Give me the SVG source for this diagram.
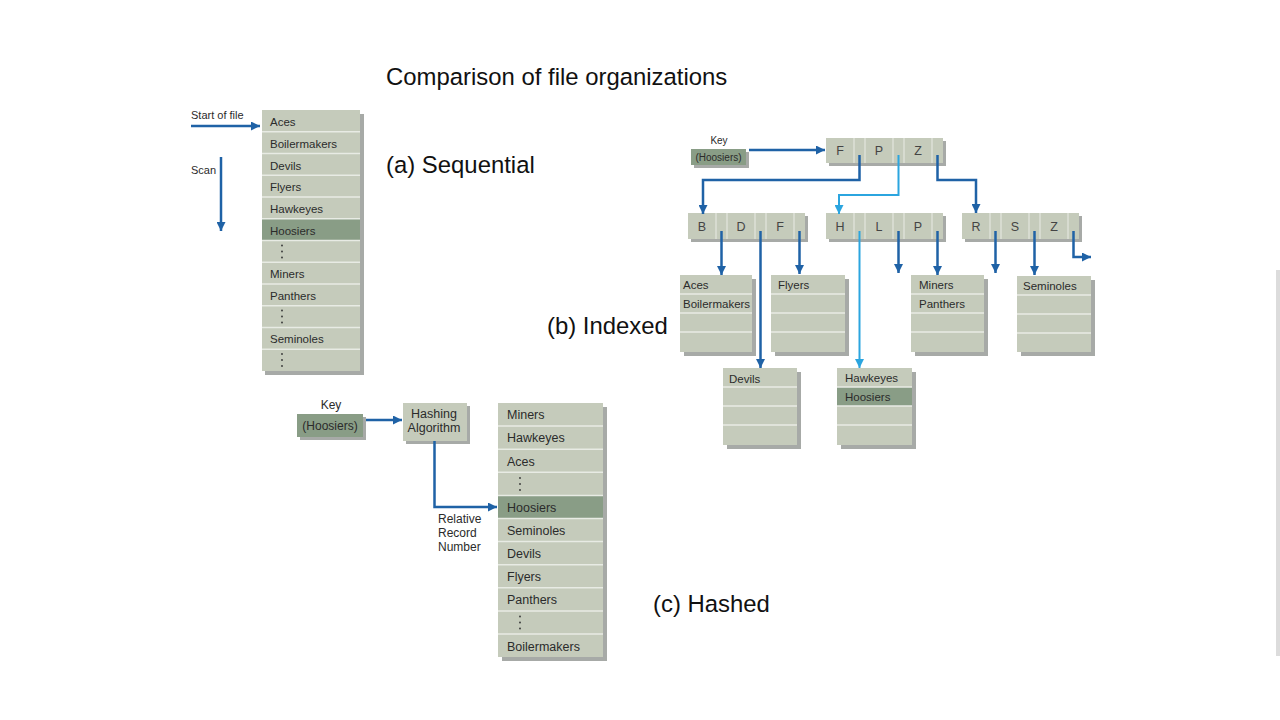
<svg xmlns="http://www.w3.org/2000/svg" width="1280" height="720" viewBox="0 0 1280 720">
<style>
text{font-family:"Liberation Sans",Arial,sans-serif;fill:#2b2b2b}
.title{font-size:23.9px;fill:#111}
.lbl{font-size:11px}
.cell{fill:#c5cbbb}
.hi{fill:#899d86}
.sh{fill:#a7aaa7}
.sep{stroke:#e8ebe4;stroke-width:1.5}
.vsep{stroke:#dde1d7;stroke-width:1.5}
.t11{font-size:11.5px}
.t12{font-size:12.5px}
.key{font-size:12px;text-anchor:middle}
.alg{font-size:12.5px;text-anchor:middle}
.rrn{font-size:12px}
.ltr{font-size:12.5px;text-anchor:middle;fill:#444}
.dk{fill:none;stroke:#1f62a6;stroke-width:2.5}
.lt{fill:none;stroke:#2ba5df;stroke-width:2}
.dot{fill:#333}
</style>
<defs>
<marker id="ad" viewBox="0 0 10 10" refX="10" refY="5" markerWidth="10" markerHeight="9" markerUnits="userSpaceOnUse" orient="auto"><path d="M0 0L10 5L0 10z" fill="#1f62a6"/></marker>
<marker id="al" viewBox="0 0 10 10" refX="10" refY="5" markerWidth="10" markerHeight="9" markerUnits="userSpaceOnUse" orient="auto"><path d="M0 0L10 5L0 10z" fill="#2ba5df"/></marker>
</defs>
<rect width="1280" height="720" fill="#ffffff"/>
<rect x="1276" y="270" width="4" height="386" fill="#dcdcdc"/>

<text class="title" x="386" y="85">Comparison of file organizations</text>
<text class="title" x="386" y="173">(a) Sequential</text>
<text class="title" x="547" y="334">(b) Indexed</text>
<text class="title" x="653" y="612">(c) Hashed</text>

<!-- (a) Sequential -->
<g id="seq-labels">
<text class="lbl" x="191" y="119">Start of file</text>
<text class="lbl" x="191" y="174">Scan</text>
</g>
<g id="seq-list">
<rect class="sh" x="265" y="114" width="99" height="261"/>
<rect class="cell" x="262" y="110" width="98" height="261"/>
<rect class="hi" x="262" y="218.75" width="98" height="21.75"/>
<g class="sep">
<line x1="262" y1="131.75" x2="360" y2="131.75"/><line x1="262" y1="153.5" x2="360" y2="153.5"/>
<line x1="262" y1="175.25" x2="360" y2="175.25"/><line x1="262" y1="197" x2="360" y2="197"/>
<line x1="262" y1="218.75" x2="360" y2="218.75"/><line x1="262" y1="240.5" x2="360" y2="240.5"/>
<line x1="262" y1="262.25" x2="360" y2="262.25"/><line x1="262" y1="284" x2="360" y2="284"/>
<line x1="262" y1="305.75" x2="360" y2="305.75"/><line x1="262" y1="327.5" x2="360" y2="327.5"/>
<line x1="262" y1="349.25" x2="360" y2="349.25"/>
</g>
<g class="t11">
<text x="270" y="126">Aces</text><text x="270" y="148">Boilermakers</text>
<text x="270" y="169.5">Devils</text><text x="270" y="191">Flyers</text>
<text x="270" y="213">Hawkeyes</text><text x="270" y="234.5">Hoosiers</text>
<text x="270" y="278">Miners</text><text x="270" y="300">Panthers</text>
<text x="270" y="343">Seminoles</text>
</g>
<g class="dot">
<circle cx="282" cy="245.5" r="0.9"/><circle cx="282" cy="251.5" r="0.9"/><circle cx="282" cy="257.5" r="0.9"/>
<circle cx="282" cy="310.5" r="0.9"/><circle cx="282" cy="316.5" r="0.9"/><circle cx="282" cy="322.5" r="0.9"/>
<circle cx="282" cy="354" r="0.9"/><circle cx="282" cy="360" r="0.9"/><circle cx="282" cy="366" r="0.9"/>
</g>
</g>

<!-- (b) Indexed -->
<g id="idx-key">
<text x="719" y="144" style="font-size:10px;text-anchor:middle">Key</text>
<rect class="sh" x="694" y="152" width="55" height="16"/>
<rect class="hi" x="691" y="149" width="55" height="16"/>
<text x="718.5" y="161" style="font-size:10px;text-anchor:middle">(Hoosiers)</text>
</g>
<g id="idx-root">
<rect class="sh" x="829" y="141" width="117" height="25"/>
<rect class="cell" x="826" y="138" width="117" height="25"/>
<g class="vsep"><line x1="854" y1="138" x2="854" y2="163"/><line x1="865" y1="138" x2="865" y2="163"/><line x1="893" y1="138" x2="893" y2="163"/><line x1="904" y1="138" x2="904" y2="163"/><line x1="932" y1="138" x2="932" y2="163"/></g>
<text class="ltr" x="840" y="155">F</text><text class="ltr" x="879" y="155">P</text><text class="ltr" x="918" y="155">Z</text>
</g>
<g id="idx-bdf">
<rect class="sh" x="691" y="216" width="117" height="26"/>
<rect class="cell" x="688" y="213" width="117" height="26"/>
<g class="vsep"><line x1="716" y1="213" x2="716" y2="239"/><line x1="727" y1="213" x2="727" y2="239"/><line x1="755" y1="213" x2="755" y2="239"/><line x1="766" y1="213" x2="766" y2="239"/><line x1="794" y1="213" x2="794" y2="239"/></g>
<text class="ltr" x="702" y="230.5">B</text><text class="ltr" x="741" y="230.5">D</text><text class="ltr" x="780" y="230.5">F</text>
</g>
<g id="idx-hlp">
<rect class="sh" x="829" y="216" width="117" height="26"/>
<rect class="cell" x="826" y="213" width="117" height="26"/>
<g class="vsep"><line x1="854" y1="213" x2="854" y2="239"/><line x1="865" y1="213" x2="865" y2="239"/><line x1="893" y1="213" x2="893" y2="239"/><line x1="904" y1="213" x2="904" y2="239"/><line x1="932" y1="213" x2="932" y2="239"/></g>
<text class="ltr" x="840" y="230.5">H</text><text class="ltr" x="879" y="230.5">L</text><text class="ltr" x="918" y="230.5">P</text>
</g>
<g id="idx-rsz">
<rect class="sh" x="965" y="216" width="117" height="26"/>
<rect class="cell" x="962" y="213" width="117" height="26"/>
<g class="vsep"><line x1="990" y1="213" x2="990" y2="239"/><line x1="1001" y1="213" x2="1001" y2="239"/><line x1="1029" y1="213" x2="1029" y2="239"/><line x1="1040" y1="213" x2="1040" y2="239"/><line x1="1068" y1="213" x2="1068" y2="239"/></g>
<text class="ltr" x="976" y="230.5">R</text><text class="ltr" x="1015" y="230.5">S</text><text class="ltr" x="1054" y="230.5">Z</text>
</g>

<g id="leaf-aces">
<rect class="sh" x="684" y="279" width="72" height="77"/>
<rect class="cell" x="680" y="275" width="72" height="77"/>
<g class="sep"><line x1="680" y1="294" x2="752" y2="294"/><line x1="680" y1="313" x2="752" y2="313"/><line x1="680" y1="332" x2="752" y2="332"/></g>
<text class="t11" x="683" y="289">Aces</text><text class="t11" x="683" y="308">Boilermakers</text>
</g>
<g id="leaf-flyers">
<rect class="sh" x="775" y="279" width="74" height="77"/>
<rect class="cell" x="771" y="275" width="74" height="77"/>
<g class="sep"><line x1="771" y1="294" x2="845" y2="294"/><line x1="771" y1="313" x2="845" y2="313"/><line x1="771" y1="332" x2="845" y2="332"/></g>
<text class="t11" x="778" y="289">Flyers</text>
</g>
<g id="leaf-miners">
<rect class="sh" x="915" y="279" width="73" height="77"/>
<rect class="cell" x="911" y="275" width="73" height="77"/>
<g class="sep"><line x1="911" y1="294" x2="984" y2="294"/><line x1="911" y1="313" x2="984" y2="313"/><line x1="911" y1="332" x2="984" y2="332"/></g>
<text class="t11" x="919" y="289">Miners</text><text class="t11" x="919" y="308">Panthers</text>
</g>
<g id="leaf-seminoles">
<rect class="sh" x="1021" y="280" width="74" height="76"/>
<rect class="cell" x="1017" y="276" width="74" height="76"/>
<g class="sep"><line x1="1017" y1="295" x2="1091" y2="295"/><line x1="1017" y1="314" x2="1091" y2="314"/><line x1="1017" y1="333" x2="1091" y2="333"/></g>
<text class="t11" x="1023" y="290">Seminoles</text>
</g>
<g id="leaf-devils">
<rect class="sh" x="727" y="372" width="74" height="77"/>
<rect class="cell" x="723" y="368" width="74" height="77"/>
<g class="sep"><line x1="723" y1="387" x2="797" y2="387"/><line x1="723" y1="406" x2="797" y2="406"/><line x1="723" y1="425" x2="797" y2="425"/></g>
<text class="t11" x="729" y="383">Devils</text>
</g>
<g id="leaf-hawkeyes">
<rect class="sh" x="841" y="372" width="75" height="77"/>
<rect class="cell" x="837" y="368" width="75" height="77"/>
<rect class="hi" x="837" y="387" width="75" height="19"/>
<g class="sep"><line x1="837" y1="387" x2="912" y2="387"/><line x1="837" y1="406" x2="912" y2="406"/><line x1="837" y1="425" x2="912" y2="425"/></g>
<text class="t11" x="845" y="382">Hawkeyes</text><text class="t11" x="845" y="401">Hoosiers</text>
</g>

<!-- (c) Hashed -->
<g id="hash-key">
<text class="key" x="331" y="409">Key</text>
<rect class="sh" x="300" y="417" width="66" height="23"/>
<rect class="hi" x="297" y="414" width="66" height="23"/>
<text class="key" x="330" y="430">(Hoosiers)</text>
</g>
<g id="hash-alg">
<rect class="sh" x="406" y="406" width="64" height="38"/>
<rect class="cell" x="403" y="403" width="64" height="38"/>
<text class="alg" x="434" y="418">Hashing</text>
<text class="alg" x="434" y="432">Algorithm</text>
</g>
<g id="hash-rrn">
<text class="rrn" x="438" y="523">Relative</text>
<text class="rrn" x="438" y="537">Record</text>
<text class="rrn" x="438" y="551">Number</text>
</g>
<g id="hash-list">
<rect class="sh" x="502" y="407" width="105" height="254"/>
<rect class="cell" x="498" y="403" width="105" height="254"/>
<rect class="hi" x="498" y="495.4" width="105" height="23.1"/>
<g class="sep">
<line x1="498" y1="426.1" x2="603" y2="426.1"/><line x1="498" y1="449.2" x2="603" y2="449.2"/>
<line x1="498" y1="472.3" x2="603" y2="472.3"/><line x1="498" y1="495.4" x2="603" y2="495.4"/>
<line x1="498" y1="518.5" x2="603" y2="518.5"/><line x1="498" y1="541.6" x2="603" y2="541.6"/>
<line x1="498" y1="564.7" x2="603" y2="564.7"/><line x1="498" y1="587.8" x2="603" y2="587.8"/>
<line x1="498" y1="610.9" x2="603" y2="610.9"/><line x1="498" y1="634" x2="603" y2="634"/>
</g>
<g class="t12">
<text x="507" y="419">Miners</text><text x="507" y="442">Hawkeyes</text>
<text x="507" y="465.5">Aces</text><text x="507" y="511.5">Hoosiers</text>
<text x="507" y="534.5">Seminoles</text><text x="507" y="557.5">Devils</text>
<text x="507" y="581">Flyers</text><text x="507" y="604">Panthers</text>
<text x="507" y="650.5">Boilermakers</text>
</g>
<g class="dot">
<circle cx="520" cy="478" r="0.9"/><circle cx="520" cy="484" r="0.9"/><circle cx="520" cy="490" r="0.9"/>
<circle cx="520" cy="616.5" r="0.9"/><circle cx="520" cy="622.5" r="0.9"/><circle cx="520" cy="628.5" r="0.9"/>
</g>
</g>

<g id="connectors">
<path class="dk" d="M191 126H260" marker-end="url(#ad)"/>
<path class="dk" d="M221 157V231" marker-end="url(#ad)"/>
<path class="dk" d="M749 150H825" marker-end="url(#ad)"/>
<path class="dk" d="M859.5 155V180H703V214" marker-end="url(#ad)"/>
<path class="lt" d="M898.5 155V195H839V214" marker-end="url(#al)"/>
<path class="dk" d="M937.5 155V180H976V213" marker-end="url(#ad)"/>
<path class="dk" d="M721.5 231V275" marker-end="url(#ad)"/>
<path class="dk" d="M760.5 231V368" marker-end="url(#ad)"/>
<path class="dk" d="M799.5 231V274" marker-end="url(#ad)"/>
<path class="lt" d="M859.5 231V368" marker-end="url(#al)"/>
<path class="dk" d="M898.5 231V273" marker-end="url(#ad)"/>
<path class="dk" d="M937.5 231V275" marker-end="url(#ad)"/>
<path class="dk" d="M995.5 231V273" marker-end="url(#ad)"/>
<path class="dk" d="M1034.5 231V275" marker-end="url(#ad)"/>
<path class="dk" d="M1073.5 231V257H1091" marker-end="url(#ad)"/>
<path class="dk" d="M366 420H402" marker-end="url(#ad)"/>
<path class="dk" d="M434.5 441V507H497" marker-end="url(#ad)"/>
</g>
</svg>
